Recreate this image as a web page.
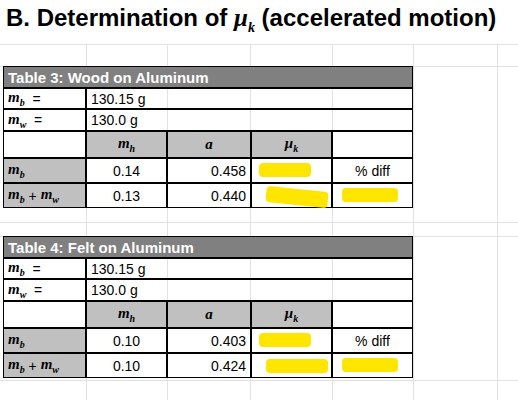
<!DOCTYPE html><html><head><meta charset="utf-8">
<script src="https://cdn.jsdelivr.net/npm/chart.js@4"></script>
<style>
body{margin:0;width:518px;height:400px;background:#fff;font-family:"Liberation Sans",Arial,sans-serif;position:relative;overflow:hidden}
.a{position:absolute;box-sizing:border-box}
.g{background:#e1e1e1}
.c{border:1px solid #000;font-size:14px;display:flex;align-items:center;padding:0 4px;white-space:nowrap}
.h{background:#808080;color:#fff;font-weight:bold;font-size:15px;border:1px solid #000;padding-left:4px;display:flex;align-items:center}
.gr{background:#c0c0c0}
.m{font-family:"Liberation Serif","Times New Roman",serif;font-weight:bold;font-style:italic;font-size:15px}
.y{background:#ffe600;border-radius:4px}
</style></head><body>
<div class="a" style="left:6px;top:4px;font-size:24px;font-weight:bold;white-space:nowrap">B. Determination of <span class="m" style="font-size:25px">μ<sub style="font-size:14px">k</sub></span> (accelerated motion)</div>
<div id="root"></div>
<script>
const tableTitles=["Table 3: Wood on Aluminum","Table 4: Felt on Aluminum"];
const mb=["130.15 g","130.15 g"];
const mw=["130.0 g","130.0 g"];
const mh=[["0.14","0.13"],["0.10","0.10"]];
const acc=[["0.458","0.440"],["0.403","0.424"]];
const root=document.getElementById('root');
function box(x,y,w,h,cls,html,style){const d=document.createElement('div');d.className='a '+cls;d.style.cssText=`left:${x}px;top:${y}px;width:${w}px;height:${h}px;`+(style||'');d.innerHTML=html||'';root.appendChild(d);return d;}
[86,167,250,332,413,497].forEach(x=>box(x,44,1,356,'g'));
[44,66,222,236,380].forEach(y=>box(0,y,518,1,'g'));
const sub=(s)=>`<span class="m">m<sub style="font-size:10px">${s}</sub></span>`;
[66,236].forEach((T,i)=>{
 box(3,T,410,22,'h',tableTitles[i]);
 box(3,T+22,83,21,'c',sub('b')+'&nbsp;&nbsp;=');
 box(86,T+22,327,21,'c',mb[i]);
 box(3,T+43,83,22,'c',sub('w')+'&nbsp;&nbsp;=');
 box(86,T+43,327,22,'c',mw[i]);
 const r3=T+65,r4=T+92,r5=T+117;
 box(3,r3,83,27,'c','');
 box(86,r3,81,27,'c gr',sub('h'),'justify-content:center');
 box(167,r3,84,27,'c gr','<span class="m">a</span>','justify-content:center');
 box(251,r3,81,27,'c gr','<span class="m">μ<sub style="font-size:10px">k</sub></span>','justify-content:center');
 box(332,r3,81,27,'c','');
 box(3,r4,83,25,'c gr',sub('b'));
 box(3,r5,83,25,'c gr',sub('b')+'&nbsp;+&nbsp;'+sub('w'));
 [r4,r5].forEach((r,j)=>{
  box(86,r,81,25,'c',mh[i][j],'justify-content:center');
  box(167,r,84,25,'c',acc[i][j],'justify-content:flex-end');
  box(251,r,81,25,'c','');
  box(332,r,81,25,'c',j==0?'% diff':'','justify-content:center');
 });
 box(259,r4+5,52,14,'y','');
 box(266,r5+6,62,14,'y','',i==0?'transform:rotate(6deg);height:16px':'');
 box(342,r5+5,56,14,'y','');
});
</script></body></html>
